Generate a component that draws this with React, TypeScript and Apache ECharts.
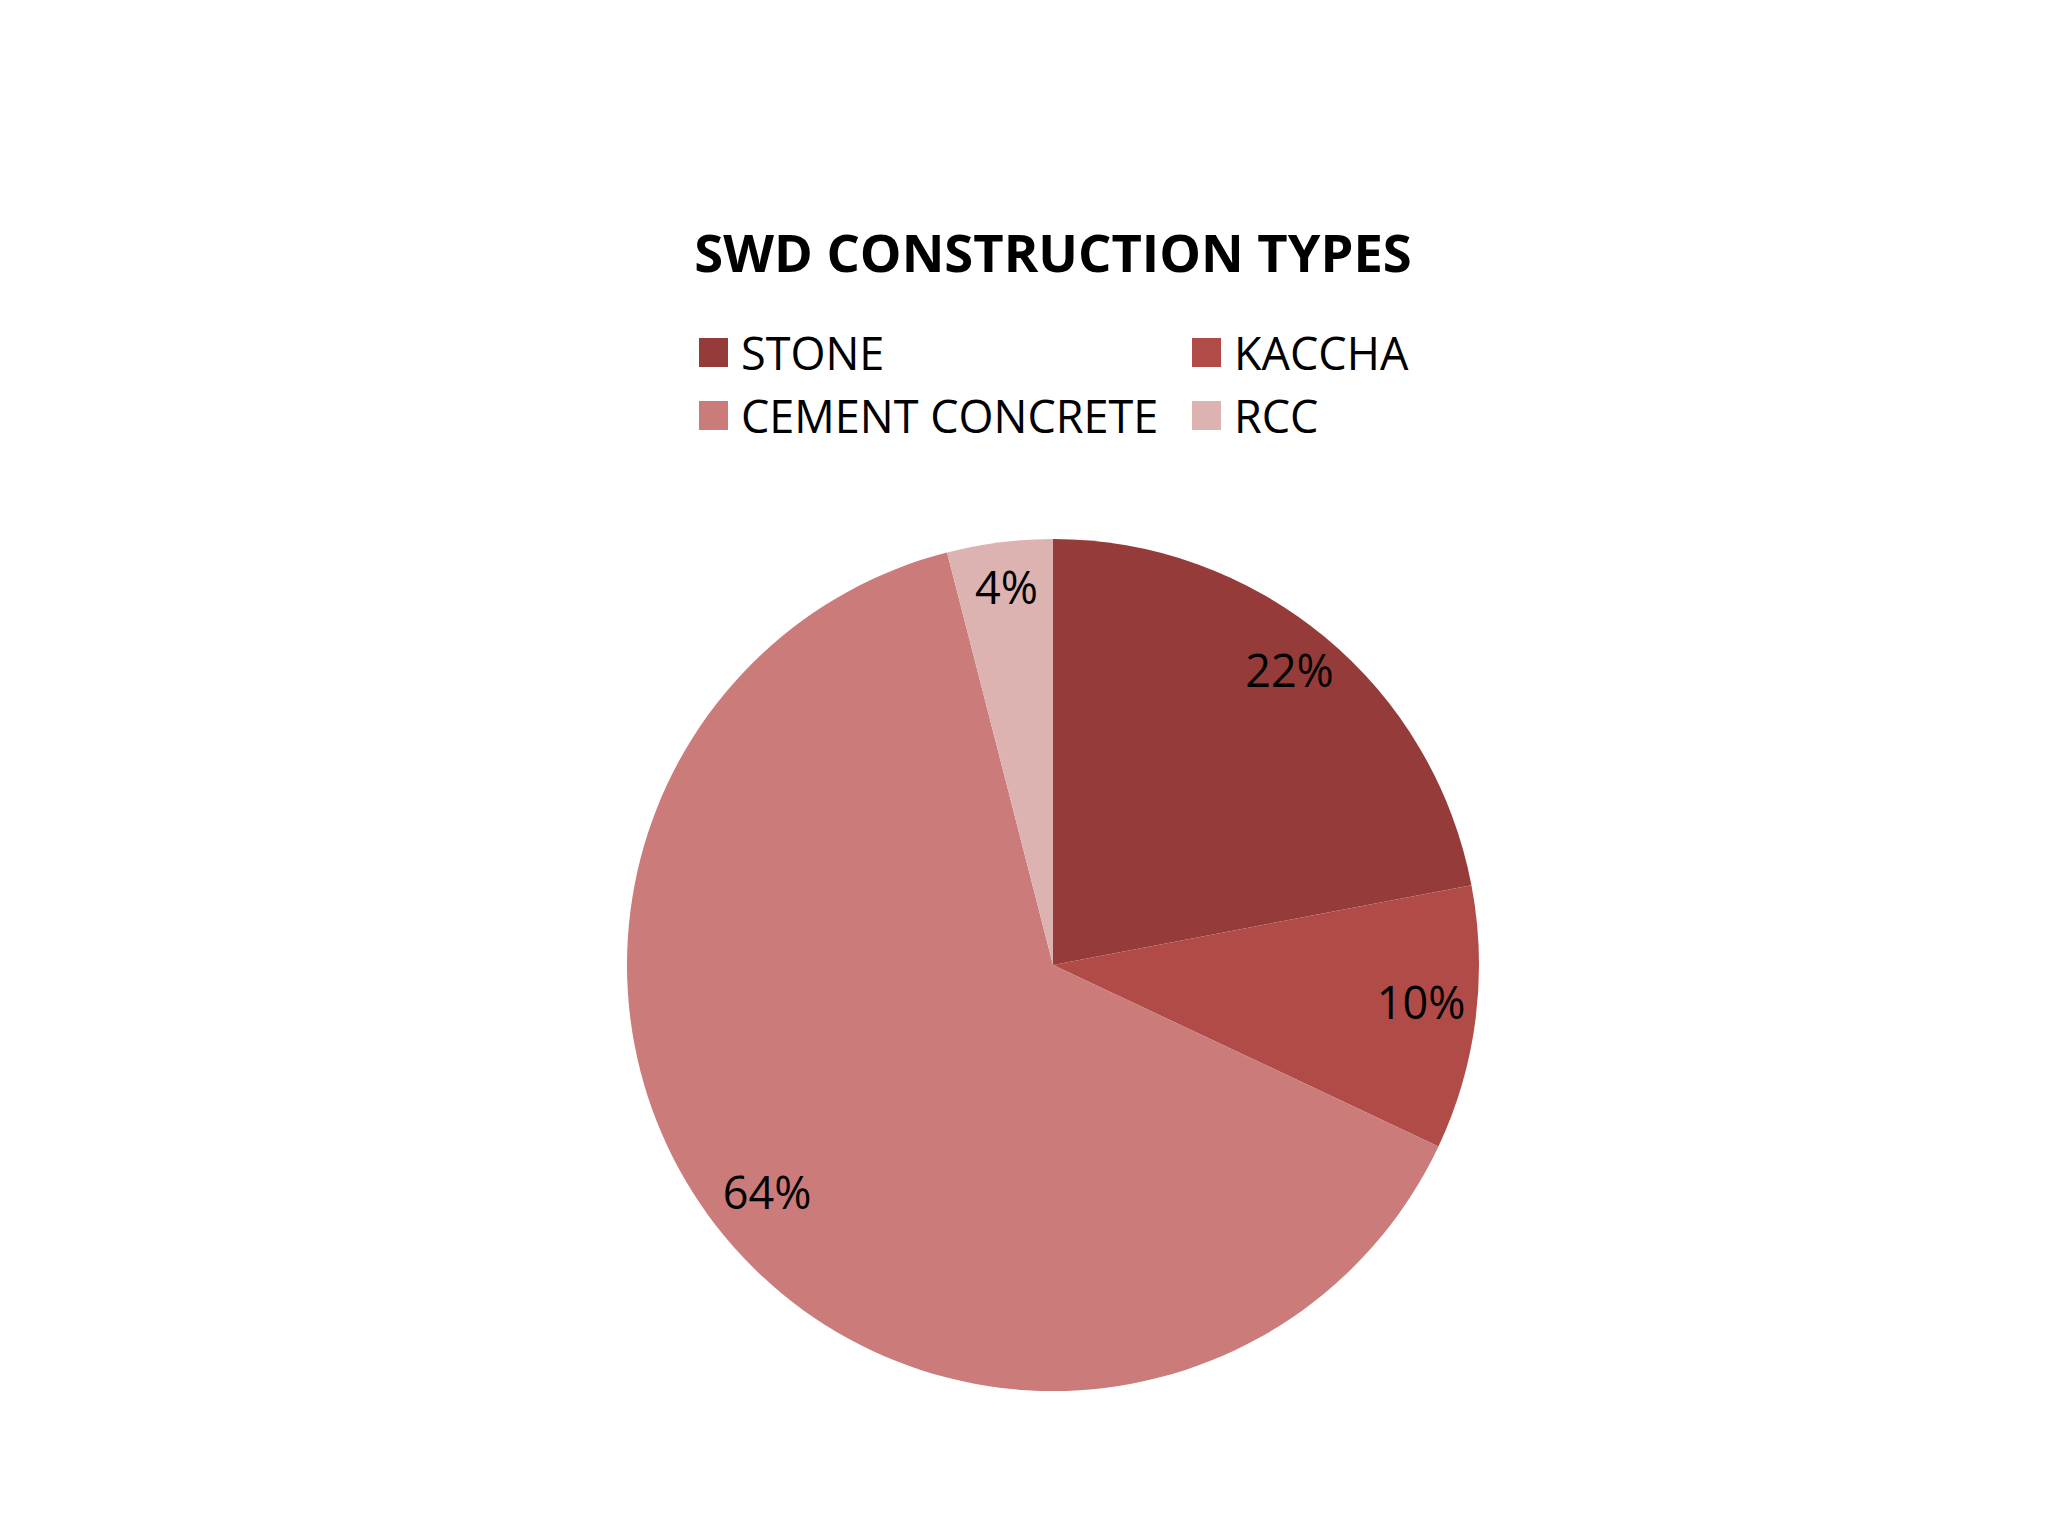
import React, { useEffect, useRef } from 'react';
import * as echarts from 'echarts';

// Chart data
const categories = ['STONE', 'KACCHA', 'CEMENT CONCRETE', 'RCC'];
const shares = [22, 10, 64, 4];
const sliceColors = ['#953B3A', '#B04B48', '#CA7B7A', '#DDB3B2'];

const legendLeftColumn = ['STONE', 'CEMENT CONCRETE'];
const legendRightColumn = ['KACCHA', 'RCC'];

const chartTitle = 'SWD CONSTRUCTION TYPES';

const FONT = '"Open Sans", "Noto Sans", sans-serif';
const CENTER: [number, number] = [1053, 965];
const RADIUS = 426;

const App: React.FC = () => {
  const chartRef = useRef<HTMLDivElement>(null);

  useEffect(() => {
    document.body.style.margin = '0';
    if (!chartRef.current) return;
    const chart = echarts.init(chartRef.current, null, { renderer: 'svg' });

    const pieData = categories.map((name, i) => ({
      name,
      value: shares[i],
      itemStyle: { color: sliceColors[i] },
    }));

    const legendBase = {
      orient: 'vertical' as const,
      top: 324,
      itemWidth: 29,
      itemHeight: 29,
      itemGap: 16,
      icon: 'rect',
      textStyle: {
        fontFamily: FONT,
        fontSize: 45,
        color: '#000',
        lineHeight: 47,
        padding: [0, 0, 0, 8],
      },
    };

    const option: echarts.EChartsOption = {
      animation: false,
      backgroundColor: '#fff',
      graphic: [
        {
          type: 'text',
          x: CENTER[0],
          y: 225,
          style: {
            text: chartTitle,
            align: 'center',
            verticalAlign: 'top',
            fontFamily: FONT,
            fontSize: 52.5,
            fontWeight: 'bold',
            fill: '#000',
          },
        },
      ],
      legend: [
        { ...legendBase, left: 694, data: legendLeftColumn },
        { ...legendBase, left: 1187, data: legendRightColumn },
      ],
      series: [
        {
          name: 'SWD',
          type: 'pie',
          center: CENTER,
          radius: [0, RADIUS],
          startAngle: 90,
          clockwise: true,
          data: pieData,
          label: { show: false },
          labelLine: { show: false },
          emphasis: { disabled: true },
        },
        {
          // transparent ring that carries the percentage labels near the rim
          name: 'labels',
          type: 'pie',
          center: CENTER,
          radius: [310, RADIUS],
          startAngle: 90,
          clockwise: true,
          silent: true,
          data: categories.map((name, i) => ({ name, value: shares[i] })),
          itemStyle: { color: 'rgba(0,0,0,0)' },
          label: {
            show: true,
            position: 'inside',
            formatter: '{d}%',
            fontFamily: FONT,
            fontSize: 45,
            color: '#000',
            offset: [0, -10],
          },
          labelLine: { show: false },
          emphasis: { disabled: true },
        },
      ],
    };

    chart.setOption(option);

    return () => {
      chart.dispose();
    };
  }, []);

  return <div ref={chartRef} style={{ width: 2048, height: 1536 }} />;
};

export default App;
